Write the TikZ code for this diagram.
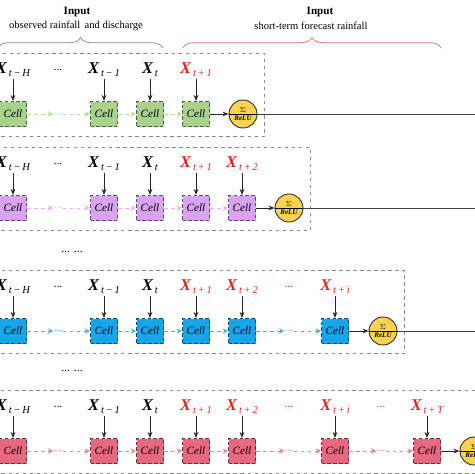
\documentclass[tikz,border=0pt]{standalone}
\usepackage{fontspec}
\setmainfont{Liberation Serif}
\usetikzlibrary{arrows.meta, positioning, fit, backgrounds, decorations.pathreplacing}
\definecolor{cgreen}{HTML}{A9D18E}
\definecolor{cpurple}{HTML}{D9A3F0}
\definecolor{cblue}{HTML}{18A6EA}
\definecolor{cpink}{HTML}{E8697F}
\definecolor{cyellow}{HTML}{F9D24F}
\definecolor{cred}{HTML}{E02222}
\definecolor{cgrey}{HTML}{8A8A8A}
\newcommand{\xv}[1]{{\fontsize{14}{14}\selectfont\bfseries\itshape X}\,\raisebox{-0.6ex}{\fontsize{9}{9}\selectfont\itshape #1}}
\tikzset{
  every picture/.style={line width=0.6pt},
  cell/.style={draw=#1!45!black, fill=#1, densely dashed, line width=0.9pt, minimum width=0.81cm, minimum height=0.75cm, inner sep=0pt, font=\fontsize{9.5}{9.5}\selectfont\itshape},
  xlab/.style={inner sep=1pt},
  dots/.style={inner sep=0pt, font=\fontsize{10}{10}\selectfont},
  feed/.style={-{Stealth[length=1.8mm, width=1.4mm]}, draw=black!85, line width=0.8pt},
  chain/.style={-{Stealth[length=1.6mm, width=1.6mm]}, draw=#1, dashed, line width=0.6pt},
  sum/.style={circle, draw=black!80, fill=cyellow, minimum size=0.84cm, inner sep=0pt, line width=0.8pt},
  frame/.style={draw=cgrey, dashed, line width=0.6pt, inner xsep=6pt, inner ysep=7pt},
  result/.style={draw=black!75, line width=0.8pt},
  title/.style={font=\fontsize{9.5}{10}\selectfont\bfseries},
  note/.style={font=\fontsize{9}{10}\selectfont},
  brace/.style={draw=#1, decorate, decoration={brace, amplitude=9pt}, line width=0.6pt},
}

\begin{document}
\begin{tikzpicture}[x=0.03cm, y=-0.03cm]
  \useasboundingbox (0,0) rectangle (474,474);
  % one row: \netrow{prefix}{cell y}{colour}{cells x/k/sub/text colour}{dots x/k/colour}{chain pairs}{last cell}{sum x}
  \newcommand{\netrow}[8]{%
    \foreach \x/\k/\s/\cc in {#4} {
      \node[cell=#3] (#1c\k) at (\x, #2) {Cell};
      \node[xlab, text=\cc] (#1x\k) at (\x, #2-44) {\xv{\s}};
      \draw[feed] (#1x\k) -- (#1c\k);
    }
    \foreach \x/\k/\cc in {#5} {
      \node[dots, text=\cc] (#1t\k) at (\x, #2-44) {...};
      \node[dots, text=#3!85] (#1d\k) at (\x, #2) {...};
    }
    \foreach \a/\b in {#6} \draw[chain=#3!85] (#1\a) -- (#1\b);
    \node[sum] (#1s) at (#8, #2) {};
    \draw[line width=0.5pt] (#1s.west) -- (#1s.east);
    \node[font=\fontsize{6}{6}\selectfont\bfseries, inner sep=0pt, above=1.2pt of #1s.center] (#1sg) {$\Sigma$};
    \node[font=\fontsize{6}{6}\selectfont\bfseries\itshape, inner sep=0pt, below=1.5pt of #1s.center] (#1sr) {ReLU};
    \draw[feed] (#1c#7) -- (#1s);
    \coordinate (#1o) at (500, #2);
    \draw[result] (#1s) -- (#1o);
    \begin{scope}[on background layer]
      \node[frame, fit=(#1x1)(#1c1)(#1s)] (#1f) {};
    \end{scope}}

  % titles and braces
  \node[title] (in1) at (77, 12) {Input};
  \node[note] (ob) at (76, 26) {observed rainfall\, and discharge};
  \node[title] (in2) at (320, 12) {Input};
  \node[note] (fc) at (311, 26) {short-term forecast rainfall};
  \coordinate (b1l) at (-2, 48);  \coordinate (b1r) at (163, 48);
  \coordinate (b2l) at (183, 48); \coordinate (b2r) at (441, 48);
  \draw[brace=cgrey] (b1l) -- (b1r);
  \draw[brace=cred!70] (b2l) -- (b2r);

  \netrow{a}{114}{cgreen}
    {13/1/t\,−\,H/black, 104/2/t\,−\,1/black, 150/3/t/black, 196/4/t\,+\,1/cred}
    {58/1/black}
    {c1/d1, d1/c2, c2/c3, c3/c4}{4}{243}

  \netrow{b}{208}{cpurple}
    {13/1/t\,−\,H/black, 104/2/t\,−\,1/black, 150/3/t/black, 196/4/t\,+\,1/cred, 242/5/t\,+\,2/cred}
    {58/1/black}
    {c1/d1, d1/c2, c2/c3, c3/c4, c4/c5}{5}{289}

  \node[dots] (gap1) at (72, 252) {... ...};

  \netrow{c}{331}{cblue}
    {13/1/t\,−\,H/black, 104/2/t\,−\,1/black, 150/3/t/black, 196/4/t\,+\,1/cred, 242/5/t\,+\,2/cred, 335/6/t\,+\,i/cred}
    {58/1/black, 289/2/cred}
    {c1/d1, d1/c2, c2/c3, c3/c4, c4/c5, c5/d2, d2/c6}{6}{383}

  \node[dots] (gap2) at (72, 371) {... ...};

  \netrow{d}{451}{cpink}
    {13/1/t\,−\,H/black, 104/2/t\,−\,1/black, 150/3/t/black, 196/4/t\,+\,1/cred, 242/5/t\,+\,2/cred, 335/6/t\,+\,i/cred, 427/7/t\,+\,T/cred}
    {58/1/black, 289/2/cred, 381/3/cred}
    {c1/d1, d1/c2, c2/c3, c3/c4, c4/c5, c5/d2, d2/c6, c6/d3, d3/c7}{7}{474}
\end{tikzpicture}
\end{document}
